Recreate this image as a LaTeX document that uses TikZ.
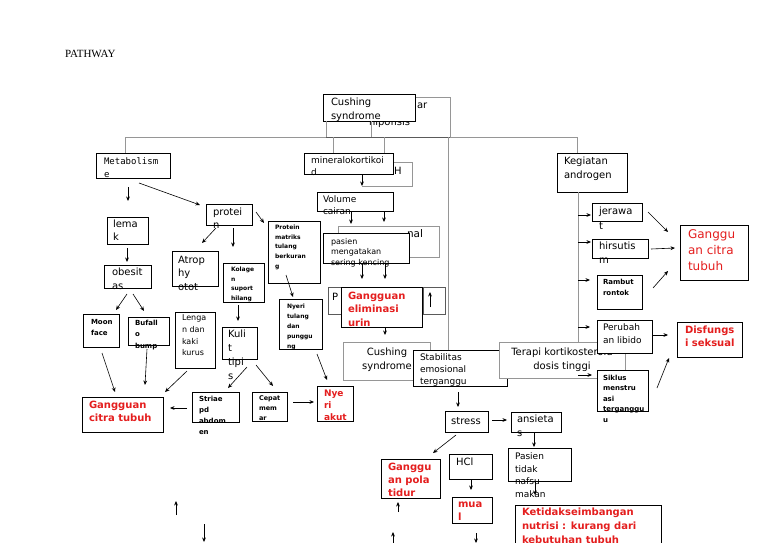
\documentclass[tikz,border=0pt]{standalone}
\usepackage{fontspec}
\setmainfont{DejaVu Sans}
\newfontfamily\serifF{Liberation Serif}
\newfontfamily\monoF{DejaVu Sans Mono}
\usetikzlibrary{arrows.meta}
\definecolor{ared}{RGB}{228,30,30}
\definecolor{lgrey}{RGB}{150,150,150}
\definecolor{dgrey}{RGB}{90,90,90}
\newcommand{\fs}[2]{\fontsize{#1}{#2}\selectfont}
\newcommand{\mybox}[6][bx]{\pgfmathsetmacro\myW{#5-#3}\pgfmathsetmacro\myH{#6-#4}%
  \node[#1,minimum width=\myW pt,minimum height=\myH pt] (#2) at ({(#3+#5)/2},{(#4+#6)/2}) {};}
\newcommand{\myarrow}[5]{\coordinate (#1s) at (#2,#3); \coordinate (#1e) at (#4,#5); \draw[arr] (#1s) -- (#1e);}
\tikzset{
  bx/.style={draw=black,line width=0.8pt,fill=white,inner sep=0pt,outer sep=0pt,rectangle},
  gbx/.style={draw=lgrey,line width=0.9pt,fill=white,inner sep=0pt,outer sep=0pt,rectangle},
  dbx/.style={draw=dgrey,line width=0.9pt,fill=white,inner sep=0pt,outer sep=0pt,rectangle},
  txt/.style={anchor=north west,align=left,inner sep=0pt,outer sep=0pt},
  rtxt/.style={txt,text=ared},
  arr/.style={-{Stealth[length=4.5pt,width=3.8pt]},line width=0.6pt,black},
  gline/.style={draw=lgrey,line width=0.9pt},
  dline/.style={draw=dgrey,line width=0.9pt}
}
\begin{document}
\begin{tikzpicture}[x=1pt,y=-1pt]
\useasboundingbox (0,0) rectangle (768,543);
\fill[white] (0,0) rectangle (768,543);
\clip (0,0) rectangle (768,543);

\node[txt,font=\serifF\fs{11}{13}] (title) at (65,50) {PATHWAY};

% ---- top: Cushing syndrome and grey frame
\node[txt,font=\fs{10}{14}] (t-ar) at (417,103) {ar};
\node[txt,font=\fs{10}{14}] (t-hip) at (369,118) {hipofisis};
\coordinate (gtop1) at (415,97); \coordinate (gtop2) at (450,97); \coordinate (gtop3) at (450,137);
\draw[gline] (gtop1) -- (gtop2) -- (gtop3);
\coordinate (trunkL) at (125,137); \coordinate (trunkR) at (577,137);
\draw[gline] (trunkL) -- (trunkR);
\coordinate (gbl) at (326,137); \coordinate (gbm) at (371,137);
\mybox{cush1}{323}{94}{415}{121}
\draw[gline] (cush1.south west -| gbl) -- (gbl);
\draw[gline] (gbm |- cush1.south) -- (gbm);
\draw[dline] (gbl) -- (gtop3);
\node[txt,font=\fs{10}{14}] (t-cush1) at (331,98) {Cushing\\syndrome};

% ---- left column
\mybox{metab}{96}{153}{170}{178}
\node[txt,font=\monoF\fs{9}{12.5}] (t-metab) at (104,158) {Metabolism\\e};
\draw[gline] (trunkL) -- (trunkL |- metab.north);

\mybox{lemak}{107}{217}{148}{244}
\node[txt,font=\fs{10}{13}] (t-lemak) at (113,220) {lema\\k};
\mybox{protei}{206}{204}{252}{225}
\node[txt,font=\fs{10}{13}] (t-protei) at (213,208) {protei\\n};
\mybox{protmat}{268}{221}{320}{283}
\node[txt,font=\bfseries\fs{6}{9.7}] (t-protmat) at (275,225) {Protein\\matriks\\tulang\\berkuran\\g};
\mybox{atrophy}{172}{251}{218}{286}
\node[txt,font=\fs{10}{13.5}] (t-atrophy) at (178,256) {Atrop\\hy\\otot};
\mybox{kolagen}{223}{263}{264}{302}
\node[txt,font=\bfseries\fs{6}{9.7}] (t-kolagen) at (231,267) {Kolage\\n\\suport\\hilang};
\mybox{obes}{104}{265}{151}{288}
\node[txt,font=\fs{10}{13.5}] (t-obes) at (112,268) {obesit\\as};
\mybox{moon}{83}{314}{119}{347}
\node[txt,font=\bfseries\fs{7}{11}] (t-moon) at (91,319) {Moon\\face};
\mybox{buf}{128}{317}{169}{345}
\node[txt,font=\bfseries\fs{7}{11.5}] (t-buf) at (135,320) {Bufall\\o\\bump};
\mybox{lengan}{175}{312}{215}{368}
\node[txt,font=\fs{8}{11.7}] (t-lengan) at (182,315) {Lenga\\n dan\\kaki\\kurus};
\mybox{kulit}{222}{327}{257}{359}
\node[txt,font=\fs{10}{14}] (t-kulit) at (228,330) {Kuli\\t\\tipi\\s};
\mybox{nyerit}{279}{299}{322}{349}
\node[txt,font=\bfseries\fs{6}{10}] (t-nyerit) at (287,304) {Nyeri\\tulang\\dan\\punggu\\ng};
\mybox{gct}{82}{397}{163}{432}
\node[rtxt,font=\bfseries\fs{10}{13}] (t-gct) at (89,401) {Gangguan\\citra tubuh};
\mybox{striae}{192}{392}{239}{422}
\node[txt,font=\bfseries\fs{7}{11}] (t-striae) at (199,396) {Striae\\pd\\abdom\\en};
\mybox{cepat}{252}{392}{287}{421}
\node[txt,font=\bfseries\fs{6.5}{10}] (t-cepat) at (259,396) {Cepat\\mem\\ar};
\mybox{nyeriakut}{317}{386}{353}{421}
\node[rtxt,font=\bfseries\fs{9}{12}] (t-nyeriakut) at (324,390) {Nye\\ri\\akut};

\myarrow{a1}{128}{187}{128}{201}
\myarrow{a2}{139}{183}{200}{205}
\myarrow{a3}{127}{248}{127}{262}
\myarrow{a4}{127}{294}{116}{310}
\myarrow{a5}{133}{294}{144}{311}
\myarrow{a6}{216}{228}{202}{243}
\myarrow{a7}{233}{228}{233}{247}
\myarrow{a8}{256}{212}{264}{223}
\myarrow{a9}{238}{305}{238}{321}
\myarrow{a10}{286}{275}{293}{297}
\myarrow{a11}{102}{353}{115}{392}
\myarrow{a12}{147}{349}{145}{385}
\myarrow{a13}{187}{371}{165}{392}
\myarrow{a14}{187}{408}{170}{408}
\myarrow{a15}{247}{367}{228}{388}
\myarrow{a16}{256}{365}{273}{386}
\myarrow{a17}{293}{402}{314}{402}
\myarrow{a18}{317}{354}{327}{380}
\myarrow{a35}{176}{515}{176}{501}
\myarrow{a36}{204}{524}{204}{542}

% ---- middle column
\coordinate (ml1) at (333,137); \coordinate (ml2) at (384,137);
\node[txt,font=\fs{10}{14}] (t-h) at (394,167) {H};
\coordinate (gm1) at (393,162); \coordinate (gm2) at (412,162); \coordinate (gm3) at (412,186); \coordinate (gm4) at (362,186);
\draw[gline] (gm1) -- (gm2) -- (gm3) -- (gm4);
\mybox{mineral}{304}{153}{393}{174}
\node[txt,font=\fs{9}{11.5}] (t-mineral) at (311,157) {mineralokortikoi\\d};
\draw[gline] (ml1) -- (ml1 |- mineral.north);
\draw[gline] (ml2) -- (ml2 |- mineral.north);
\myarrow{a19}{362}{174}{362}{186}
\mybox{volume}{317}{192}{393}{211}
\node[txt,font=\fs{9}{12}] (t-volume) at (323,196) {Volume\\cairan};
\mybox[gbx]{nalbox}{338}{226}{439}{257}
\node[txt,font=\fs{10.5}{14}] (t-nal) at (407,230) {nal};
\mybox{pasien1}{323}{233}{409}{263}
\node[txt,font=\fs{8}{10.5}] (t-pasien1) at (331,238) {pasien\\mengatakan\\sering kencing};
\myarrow{a20}{351}{211}{351}{224}
\myarrow{a21}{384}{211}{384}{222}
\myarrow{a22}{362}{263}{362}{279}
\myarrow{a23}{385}{263}{385}{279}
\mybox[dbx]{pbox}{328}{287}{445}{314}
\coordinate (pdiv) at (423,300);
\draw[dline] (pdiv |- pbox.north) -- (pdiv |- pbox.south);
\node[txt,font=\fs{10}{14}] (t-p) at (332,293) {P};
\myarrow{a24}{430}{307}{430}{292}
\mybox{gel}{341}{287}{422}{327}
\node[rtxt,font=\bfseries\fs{10}{13.5}] (t-gel) at (348,292) {Gangguan\\eliminasi\\urin};
\myarrow{a25}{385}{327}{385}{335}
\mybox[gbx]{cush2}{343}{342}{430}{380}
\node[anchor=north,align=center,inner sep=0pt,font=\fs{10}{14}] (t-cush2) at (387,348) {Cushing\\syndrome};
\coordinate (vl) at (448,137);
\mybox{stab}{413}{350}{507}{386}
\draw[gline] (vl) -- (vl |- stab.north);
\node[txt,font=\fs{9}{12}] (t-stab) at (420,354) {Stabilitas\\emosional\\terganggu};
\mybox{stress}{445}{411}{488}{432}
\node[inner sep=0pt,font=\fs{10}{14}] (t-stress) at (466,421) {stress};
\mybox{ansietas}{511}{412}{561}{432}
\node[txt,font=\fs{10}{14}] (t-ansietas) at (517,415) {ansieta\\s};
\mybox{pasien2}{508}{448}{571}{481}
\node[txt,font=\fs{9}{12.5}] (t-pasien2) at (515,453) {Pasien\\tidak\\nafsu\\makan};
\mybox{ketidak}{515}{505}{661}{552}
\node[rtxt,font=\bfseries\fs{10}{14}] (t-ketidak) at (522,508) {Ketidakseimbangan\\nutrisi : kurang dari\\kebutuhan tubuh};
\mybox{gpt}{381}{459}{440}{498}
\node[rtxt,font=\bfseries\fs{10}{13}] (t-gpt) at (388,463) {Ganggu\\an pola\\tidur};
\mybox{hcl}{449}{454}{492}{479}
\node[txt,font=\fs{10}{14}] (t-hcl) at (456,458) {HCl};
\mybox{mual}{452}{497}{492}{523}
\node[rtxt,font=\bfseries\fs{10}{13}] (t-mual) at (458,502) {mua\\l};
\myarrow{a26}{458}{392}{458}{407}
\myarrow{a27}{492}{420}{507}{420}
\myarrow{a28}{534}{432}{534}{447}
\myarrow{a29}{535}{481}{535}{495}
\myarrow{a30}{456}{435}{433}{453}
\myarrow{a31}{471}{479}{471}{490}
\myarrow{a32}{398}{512}{398}{502}
\myarrow{a33}{393}{543}{393}{532}
\myarrow{a34}{476}{533}{476}{543}

% ---- right column
\mybox{keg}{557}{153}{627}{192}
\node[txt,font=\fs{10}{14}] (t-keg) at (564,157) {Kegiatan\\androgen};
\draw[gline] (trunkR) -- (trunkR |- keg.north);
\coordinate (vr1) at (578,192); \coordinate (vr2) at (578,375);
\draw[gline] (vr1) -- (vr2);
\mybox[gbx]{terapi}{499}{342}{625}{378}
\node[anchor=north,align=center,inner sep=0pt,font=\fs{10}{14}] (t-terapi) at (562,348) {Terapi kortikosteroid\\dosis tinggi};
\mybox{jerawat}{592}{203}{642}{221}
\node[txt,font=\fs{10}{15}] (t-jerawat) at (599,207) {jerawa\\t};
\mybox{hirsut}{592}{239}{648}{258}
\node[txt,font=\fs{10}{14}] (t-hirsut) at (599,242) {hirsutis\\m};
\mybox{rambut}{597}{275}{642}{309}
\node[txt,font=\bfseries\fs{7}{11}] (t-rambut) at (603,279) {Rambut\\rontok};
\mybox{perub}{597}{320}{652}{353}
\node[txt,font=\fs{9}{13}] (t-perub) at (603,324) {Perubah\\an libido};
\mybox{siklus}{597}{370}{648}{411}
\node[txt,font=\bfseries\fs{7}{10.5}] (t-siklus) at (603,375) {Siklus\\menstru\\asi\\terganggu\\u};
\mybox{gct2}{680}{225}{748}{280}
\node[rtxt,font=\fs{12}{16}] (t-gct2) at (688,230) {Ganggu\\an citra\\tubuh};
\mybox{disf}{677}{322}{742}{357}
\node[rtxt,font=\bfseries\fs{10}{13}] (t-disf) at (685,326) {Disfungs\\i seksual};
\myarrow{a37}{578}{215}{591}{215}
\myarrow{a38}{578}{242}{591}{242}
\myarrow{a39}{578}{280}{590}{280}
\myarrow{a40}{578}{327}{590}{327}
\myarrow{a41}{578}{375}{592}{375}
\myarrow{a42}{648}{212}{668}{232}
\myarrow{a43}{651}{249}{675}{248}
\myarrow{a44}{653}{288}{668}{271}
\myarrow{a45}{653}{335}{668}{335}
\myarrow{a46}{657}{388}{669}{358}
\end{tikzpicture}
\end{document}
